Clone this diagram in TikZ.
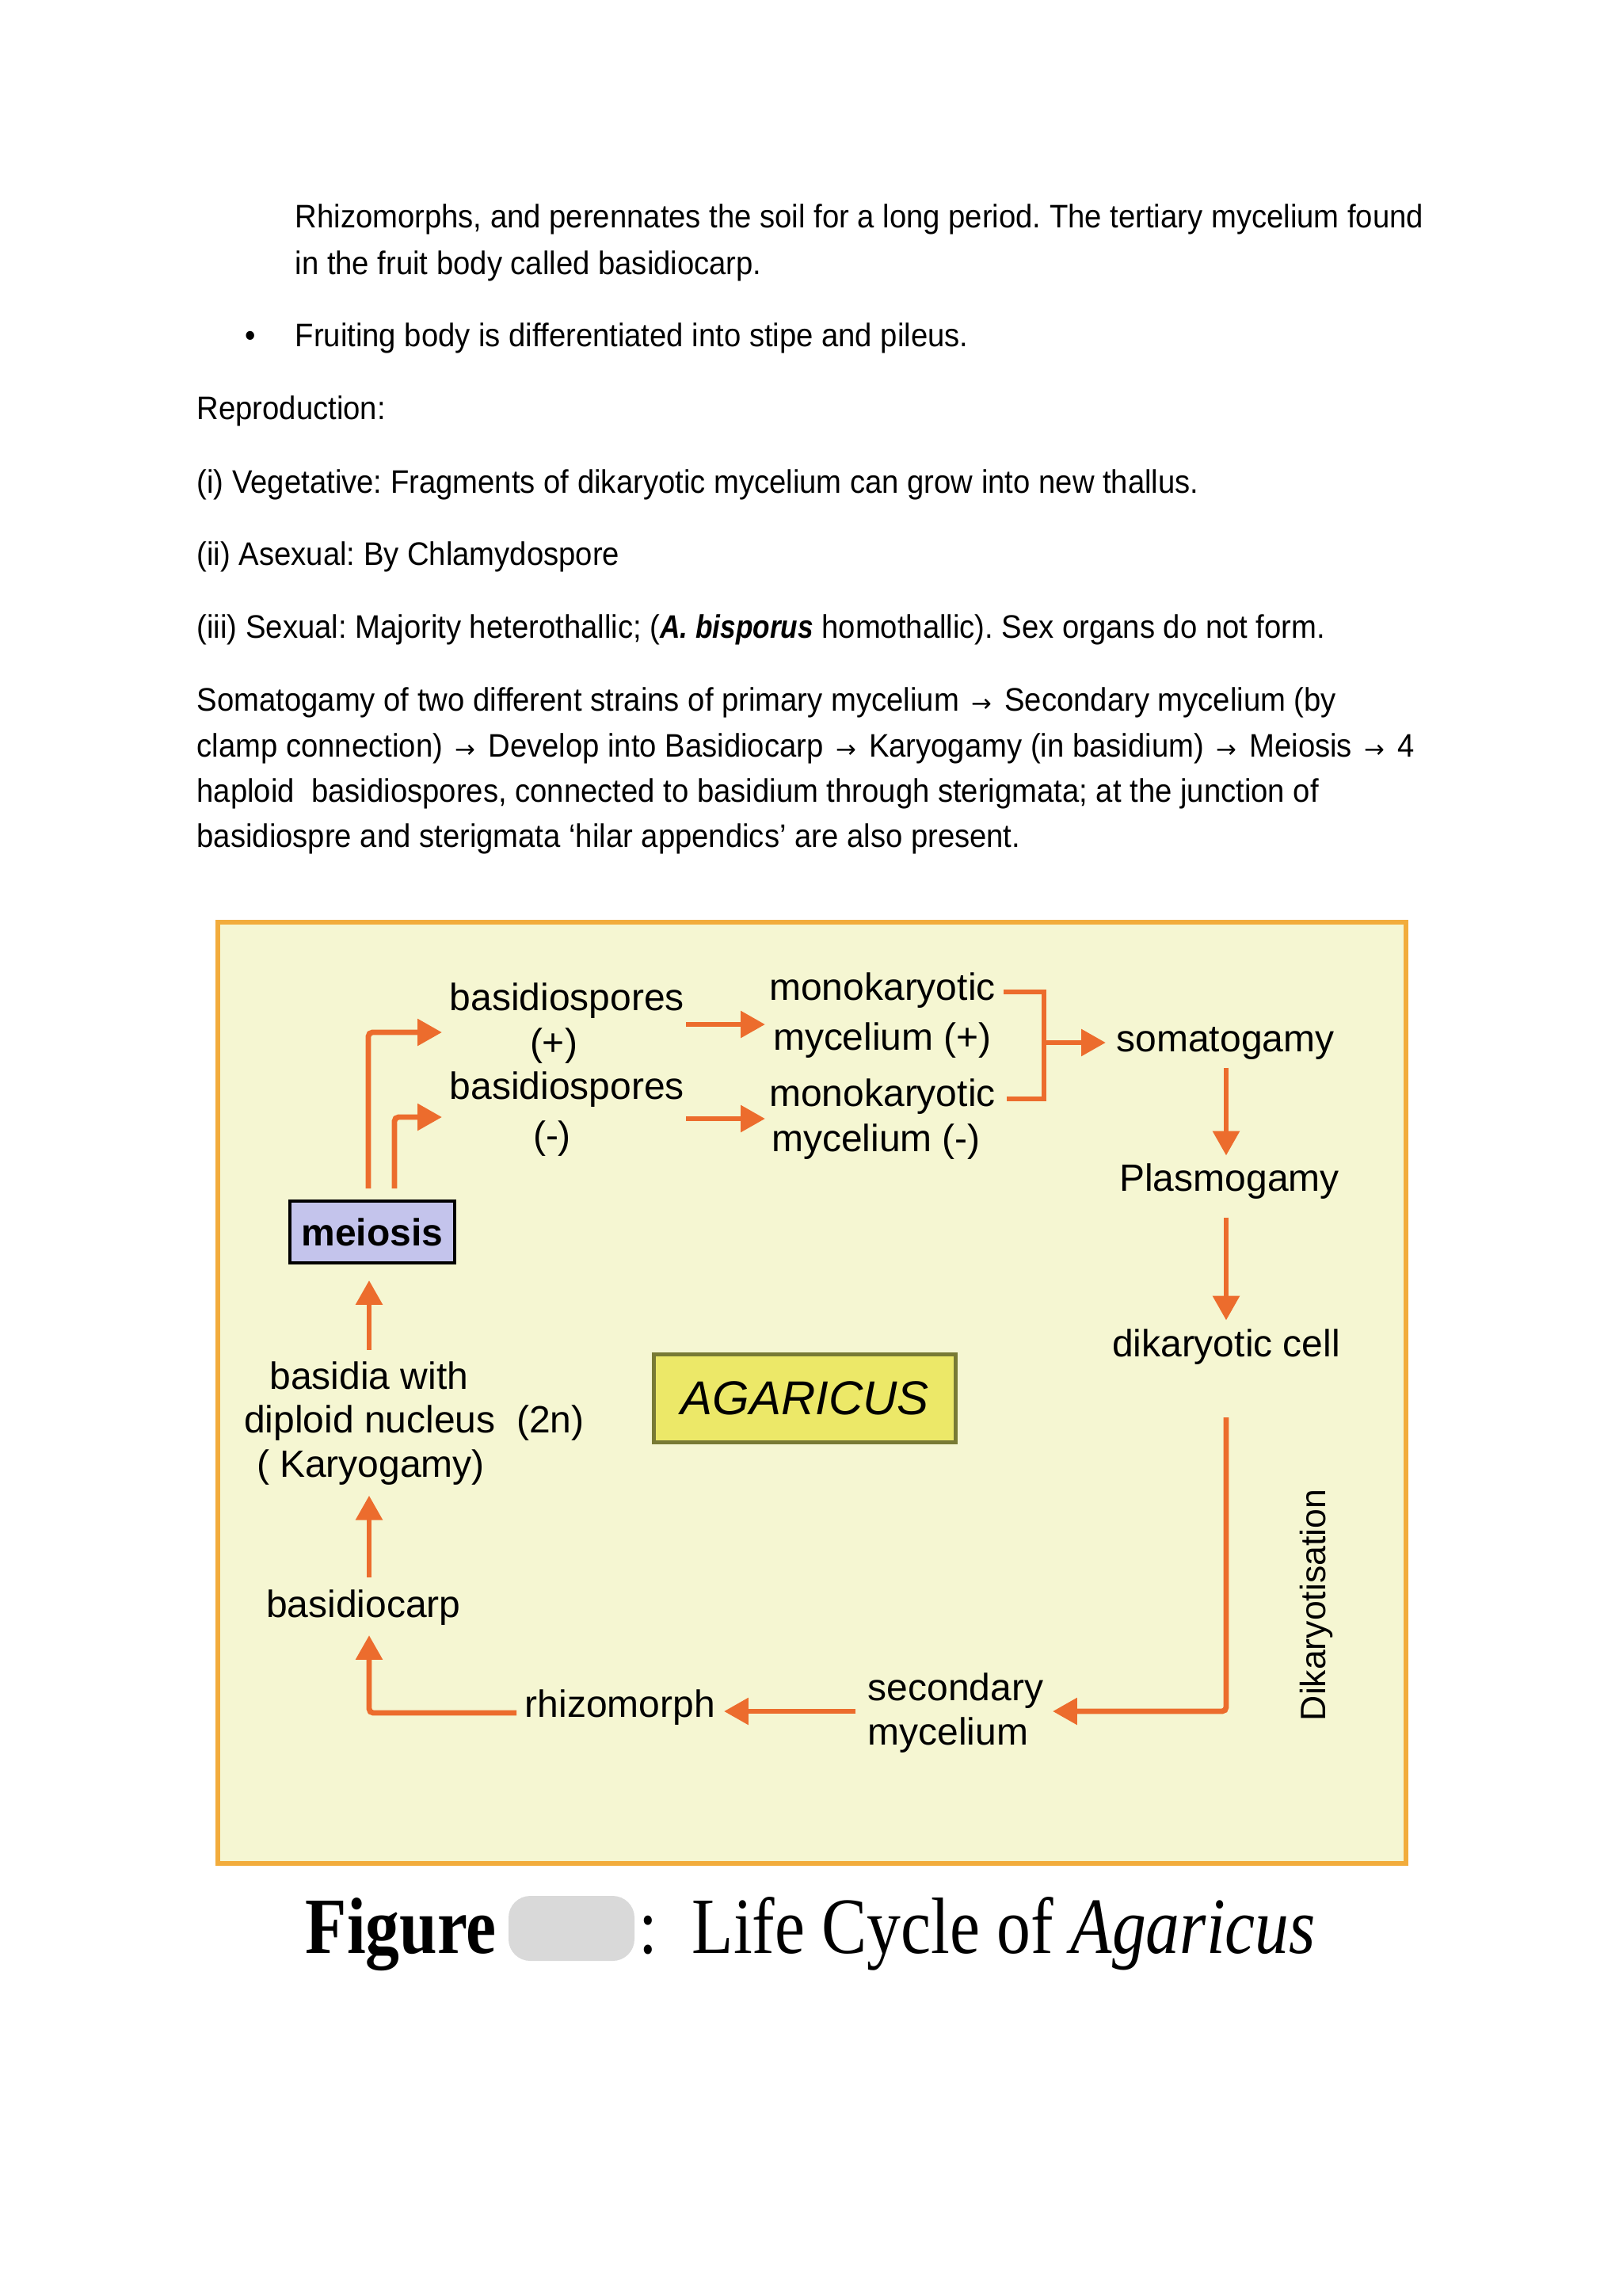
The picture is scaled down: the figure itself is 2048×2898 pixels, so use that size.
\documentclass[tikz,border=0pt]{standalone}
\usepackage{fontspec}
\usepackage{graphicx}
\setmainfont{Liberation Sans}
\newfontfamily\bodyfont[FakeStretch=0.93]{Liberation Sans}
\newfontfamily\capfont[FakeStretch=0.85]{Liberation Serif}
\newfontfamily\arrfont{DejaVu Sans}
\usetikzlibrary{arrows.meta,calc}
\definecolor{frameOrange}{RGB}{242,172,60}
\definecolor{cream}{RGB}{245,246,210}
\definecolor{arrowOrange}{RGB}{236,108,45}
\definecolor{meiosisFill}{RGB}{196,196,236}
\definecolor{agarFill}{RGB}{236,232,104}
\definecolor{agarBorder}{RGB}{120,122,52}
\definecolor{redact}{RGB}{217,217,217}
\newcommand\tarrow{\hspace{1.5pt}{\arrfont\fontsize{9}{9}\selectfont\raisebox{-0.5pt}{→}}\hspace{1.5pt}}
\frenchspacing
\begin{document}
\begin{tikzpicture}[x=0.010254cm,y=-0.010254cm,
  body/.style={anchor=base west, inner sep=0pt, font=\bodyfont\fontsize{12}{14}\selectfont},
  lbl/.style={anchor=base, inner sep=0pt, font=\fontsize{14}{16}\selectfont},
  arr/.style={draw=arrowOrange, line width=2pt, rounded corners=1.5pt, -{Triangle[length=9pt,width=9.5pt]}},
  ln/.style={draw=arrowOrange, line width=2pt},
  capt/.style={anchor=base west, inner sep=0pt, font=\capfont\fontsize{29.4}{30}\selectfont}]
\useasboundingbox (0,0) rectangle (2048,2898);
\fill[white] (0,0) rectangle (2048,2898);

% ---- body text ----
\node[body] (t1) at (372,287) {Rhizomorphs, and perennates the soil for a long period. The tertiary mycelium found};
\node[body] (t2) at (372,346) {in the fruit body called basidiocarp.};
\node[body] (bul) at (309,437) {\textbullet};
\node[body] (t3) at (372,437) {Fruiting body is differentiated into stipe and pileus.};
\node[body] (t4) at (248,529) {Reproduction:};
\node[body] (t5) at (248,622) {(i) Vegetative: Fragments of dikaryotic mycelium can grow into new thallus.};
\node[body] (t6) at (248,713) {(ii) Asexual: By Chlamydospore};
\node[body] (t7) at (248,805) {(iii) Sexual: Majority heterothallic; (\scalebox{0.92}[1]{\textbf{\textit{A. bisporus}}} homothallic). Sex organs do not form.};
\node[body] (p1) at (248,897) {Somatogamy of two different strains of primary mycelium \tarrow\ Secondary mycelium (by};
\node[body] (p2) at (248,955) {clamp connection) \tarrow\ Develop into Basidiocarp \tarrow\ Karyogamy (in basidium) \tarrow\ Meiosis \tarrow\ 4};
\node[body] (p3) at (248,1012) {haploid\ \ basidiospores, connected to basidium through sterigmata; at the junction of};
\node[body] (p4) at (248,1069) {basidiospre and sterigmata ‘hilar appendics’ are also present.};

% ---- diagram frame ----
\draw[draw=frameOrange, line width=1.75pt, fill=cream] (275,1164) rectangle (1775,2352);

% ---- diagram nodes ----
\node[lbl] (bsp1) at (716,1275) {basidiospores};
\node[lbl] (bsp1s) at (699,1332) {(+)};
\node[lbl] (bsp2) at (716,1387) {basidiospores};
\node[lbl] (bsp2s) at (697,1449) {(-)};
\node[lbl] (mono1) at (1114,1262) {monokaryotic};
\node[lbl] (myc1) at (1114,1325) {mycelium (+)};
\node[lbl] (mono2) at (1114,1396) {monokaryotic};
\node[lbl] (myc2) at (1106,1453) {mycelium (-)};
\node[lbl] (soma) at (1547,1327) {somatogamy};
\node[lbl] (plas) at (1552,1503) {Plasmogamy};
\node[lbl] (dika) at (1548,1712) {dikaryotic cell};
\node[draw=black, line width=1.2pt, fill=meiosisFill, minimum width=60.8pt, minimum height=22.7pt,
      inner sep=0pt, font=\fontsize{14}{16}\selectfont\bfseries] (meiosis) at (470,1555) {meiosis};
\node[lbl] (bas1) at (466,1753) {basidia with};
\node[lbl] (bas2) at (523,1808) {diploid nucleus\ \ (2n)};
\node[lbl] (bas3) at (468,1864) {( Karyogamy)};
\node[draw=agarBorder, line width=1.5pt, fill=agarFill, minimum width=111.3pt, minimum height=32.6pt,
      inner sep=0pt, font=\fontsize{17.5}{18}\selectfont\itshape] (agar) at (1016,1765) {AGARICUS};
\node[lbl] (bcarp) at (459,2041) {basidiocarp};
\node[lbl] (rhiz) at (783,2167) {rhizomorph};
\node[lbl, anchor=base west] (sec1) at (1095,2146) {secondary};
\node[lbl, anchor=base west] (sec2) at (1095,2202) {mycelium};
\node[rotate=90, anchor=base, inner sep=0pt, font=\fontsize{13}{13}\selectfont] (dk) at (1673,2026) {Dikaryotisation};

% ---- connector end points ----
\coordinate (mA) at ($(meiosis.north)+(-5,-14)$);
\coordinate (mB) at ($(meiosis.north)+(28,-14)$);
\coordinate (tA) at (558,1303);
\coordinate (tB) at (558,1410);
\coordinate (s1a) at (866,1293);
\coordinate (s1b) at (966,1293);
\coordinate (s2a) at (866,1412);
\coordinate (s2b) at (966,1412);
\coordinate (brT) at (1267,1252);
\coordinate (brC) at (1318,1387);
\coordinate (brB) at (1271,1387);
\coordinate (brX) at (1318,1316);
\coordinate (dkTop) at (1548,1789);
\coordinate (secTip) at (1329,2160);
\coordinate (secOut) at (1080,2160);
\coordinate (rhTip) at (914,2160);
\coordinate (rhOut) at (652,2162);
\coordinate (bcTip) at (466,2064);

% ---- connectors ----
\draw[arr] (mA) |- (tA);
\draw[arr] (mB) |- (tB);
\draw[arr] (s1a) -- (s1b);
\draw[arr] (s2a) -- (s2b);
\draw[ln] (brT) -| (brC) -- (brB);
\draw[arr] (brX) -- ($(soma.west |- brX)+(-13,0)$);
\draw[arr] ($(soma.south)+(1,10)$) -- ($(plas.north)+(-4,-9)$);
\draw[arr] ($(plas.south)+(-4,23)$) -- ($(dika.north)+(0,-10)$);
\draw[arr] (dkTop) |- (secTip);
\draw[arr] (secOut) -- (rhTip);
\draw[arr] (rhOut) -| (bcTip);
\draw[arr] ($(bcarp.north)+(7,-15)$) -- ($(bas3.south)+(-2,13)$);
\draw[arr] ($(bas1.north)+(0,-14)$) -- ($(meiosis.south)+(-4,20)$);

% ---- caption ----
\fill[redact, rounded corners=8] (642,2393) rectangle (801,2475);
\node[capt, font=\capfont\fontsize{29.4}{30}\selectfont\bfseries] (figw) at (385,2465) {Figure};
\node[capt] (colon) at (806,2465) {:};
\node[capt] (captxt) at (873,2465) {Life Cycle of \textit{Agaricus}};
\end{tikzpicture}
\end{document}
